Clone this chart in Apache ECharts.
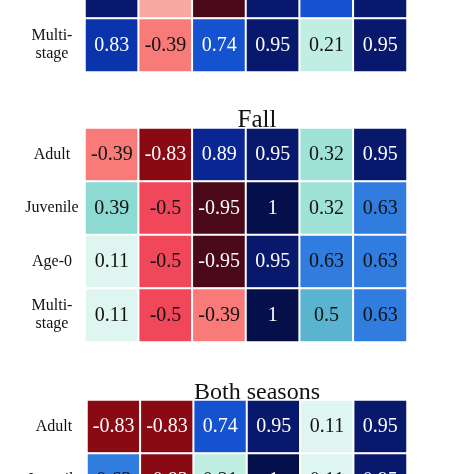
<!DOCTYPE html>
<html>
<head>
<meta charset="utf-8">
<script src="https://cdn.jsdelivr.net/npm/echarts@6/dist/echarts.min.js"></script>
<style>html,body{margin:0;padding:0;background:#fff;}#c{width:474px;height:474px;}</style>
</head>
<body>
<div id="c"></div>
<script>
var columns = ['C1', 'C2', 'C3', 'C4', 'C5', 'C6'];

var topRows = ['Age-0', 'Multi-\nstage'];
var topValues = [
  [0.95, -0.21, -0.95, 0.95, 0.74, 0.95],
  [0.83, -0.39, 0.74, 0.95, 0.21, 0.95]
];

var fallTitle = 'Fall';
var fallRows = ['Adult', 'Juvenile', 'Age-0', 'Multi-\nstage'];
var fallValues = [
  [-0.39, -0.83, 0.89, 0.95, 0.32, 0.95],
  [0.39, -0.5, -0.95, 1, 0.32, 0.63],
  [0.11, -0.5, -0.95, 0.95, 0.63, 0.63],
  [0.11, -0.5, -0.39, 1, 0.5, 0.63]
];

var bothTitle = 'Both seasons';
var bothRows = ['Adult', 'Juvenile'];
var bothValues = [
  [-0.83, -0.83, 0.74, 0.95, 0.11, 0.95],
  [0.63, -0.83, 0.21, 1, 0.11, 0.95]
];

var colorStops = ['#3a0815','#5a0a1a','#9e0a12','#c01520','#e02a3a','#f0485a','#f87878','#f8928c','#f9aca2','#fbd0c8','#f5fbf9','#e2f6f1','#c4efe4','#a4e5da','#8ad9d2','#5ab4d0','#3a8ade','#1a60e0','#0a3cb8','#0a2290','#05104a'];

function toData(vals) {
  var d = [];
  for (var r = 0; r < vals.length; r++)
    for (var c = 0; c < vals[r].length; c++)
      d.push([c, r, vals[r][c]]);
  return d;
}

var FONT = '"Liberation Serif", "DejaVu Serif", serif';

var grids = [
  {left: 85, width: 322, top: -35, height: 107, outerBoundsMode: 'none', containLabel: false},
  {left: 85, width: 322, top: 128, height: 214, outerBoundsMode: 'none', containLabel: false},
  {left: 87, width: 320, top: 400, height: 107, outerBoundsMode: 'none', containLabel: false}
];
var rowSets = [topRows, fallRows, bothRows];
var valSets = [topValues, fallValues, bothValues];

var xAxes = [], yAxes = [], series = [];
for (var i = 0; i < 3; i++) {
  xAxes.push({type: 'category', data: columns, gridIndex: i, show: false});
  yAxes.push({
    type: 'category', data: rowSets[i], gridIndex: i, inverse: true,
    axisLine: {show: false}, axisTick: {show: false}, splitLine: {show: false},
    axisLabel: {fontFamily: FONT, fontSize: 16, color: '#111', align: 'center', margin: 33, lineHeight: 18}
  });
  series.push({
    type: 'heatmap', xAxisIndex: i, yAxisIndex: i, data: toData(valSets[i]),
    itemStyle: {borderColor: '#fff', borderWidth: 2},
    label: {
      show: true,
      formatter: function (p) {
        var v = p.value[2];
        return (Math.abs(v) >= 0.7 ? '{w|' : '{b|') + String(v) + '}';
      },
      rich: {
        w: {color: '#fff', fontFamily: FONT, fontSize: 20},
        b: {color: '#111', fontFamily: FONT, fontSize: 20}
      }
    },
    emphasis: {disabled: true}
  });
}

var chart = echarts.init(document.getElementById('c'));
chart.setOption({
  backgroundColor: '#fff',
  animation: false,
  title: [
    {text: fallTitle, left: 252, top: 103, textAlign: 'center', textStyle: {fontFamily: FONT, fontSize: 25, fontWeight: 'normal', color: '#111'}},
    {text: bothTitle, left: 252, top: 376, textAlign: 'center', textStyle: {fontFamily: FONT, fontSize: 24, fontWeight: 'normal', color: '#111'}}
  ],
  grid: grids,
  xAxis: xAxes,
  yAxis: yAxes,
  visualMap: {show: false, type: 'continuous', min: -1, max: 1, seriesIndex: [0, 1, 2], inRange: {color: colorStops}},
  series: series
});
</script>
</body>
</html>
